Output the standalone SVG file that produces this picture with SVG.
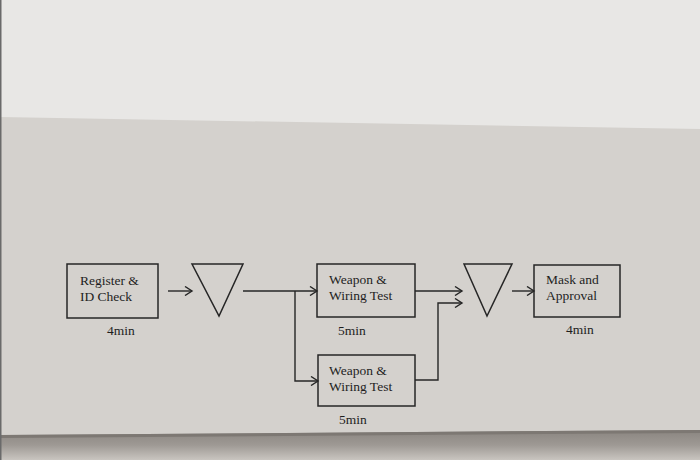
<svg xmlns="http://www.w3.org/2000/svg" width="700" height="460" viewBox="0 0 700 460">
<defs>
<marker id="ah" markerWidth="10" markerHeight="10" refX="8" refY="5" orient="auto" markerUnits="userSpaceOnUse">
<path d="M1,0.5 L8,5 L1,9.5" fill="none" stroke="#262626" stroke-width="1.4"/>
</marker>
<linearGradient id="shadow" x1="0" y1="0" x2="0" y2="1">
<stop offset="0" stop-color="#8a8580"/>
<stop offset="0.5" stop-color="#9e9994"/>
<stop offset="1" stop-color="#c9c5c0"/>
</linearGradient>
</defs>
<style>
.box{fill:none;stroke:#262626;stroke-width:1.5}
.tri{fill:none;stroke:#262626;stroke-width:1.5;stroke-linejoin:miter}
.lbl{font-family:"Liberation Serif","Times New Roman",serif;font-size:13.5px;fill:#1e1e1e}
.t{font-family:"Liberation Serif","Times New Roman",serif;font-size:13.5px;fill:#1e1e1e;text-anchor:middle}
.c{fill:none;stroke:#262626;stroke-width:1.4}
</style>
<!-- background: photographed paper -->
<rect x="0" y="0" width="700" height="460" fill="#e8e7e5"/>
<polygon points="0,117 700,129 700,430 0,435" fill="#d4d1cd"/>
<polygon points="0,435 700,430 700,460 0,460" fill="url(#shadow)"/>
<polygon points="0,435 700,430 700,433 0,438" fill="#7d7873"/>
<rect x="0" y="0" width="1.5" height="460" fill="#6a6a6a"/>

<g id="connectors">
<line class="c" x1="168" y1="291" x2="192" y2="291" marker-end="url(#ah)"/>
<line class="c" x1="243" y1="291" x2="317" y2="291" marker-end="url(#ah)"/>
<polyline class="c" points="295,291 295,381 318,381" marker-end="url(#ah)"/>
<line class="c" x1="415" y1="291" x2="462" y2="291" marker-end="url(#ah)"/>
<polyline class="c" points="415,380 438,380 438,303 462,303" marker-end="url(#ah)"/>
<line class="c" x1="512" y1="291" x2="534" y2="291" marker-end="url(#ah)"/>
</g>

<g id="register">
<rect class="box" x="67" y="264" width="91" height="54"/>
<text class="lbl" x="80" y="285">Register &amp;</text>
<text class="lbl" x="80" y="301">ID Check</text>
<text class="t" x="121" y="335">4min</text>
</g>

<g id="queue1">
<polygon class="tri" points="192,264 243,264 219,316"/>
</g>

<g id="weapon1">
<rect class="box" x="317" y="264" width="98" height="53"/>
<text class="lbl" x="329" y="284">Weapon &amp;</text>
<text class="lbl" x="329" y="300">Wiring Test</text>
<text class="t" x="352" y="335">5min</text>
</g>

<g id="weapon2">
<rect class="box" x="318" y="355" width="97" height="51"/>
<text class="lbl" x="329" y="375">Weapon &amp;</text>
<text class="lbl" x="329" y="391">Wiring Test</text>
<text class="t" x="353" y="424">5min</text>
</g>

<g id="queue2">
<polygon class="tri" points="464,264 512,264 487,316"/>
</g>

<g id="mask">
<rect class="box" x="534" y="265" width="86" height="52"/>
<text class="lbl" x="546" y="284">Mask and</text>
<text class="lbl" x="546" y="300">Approval</text>
<text class="t" x="580" y="334">4min</text>
</g>
</svg>
